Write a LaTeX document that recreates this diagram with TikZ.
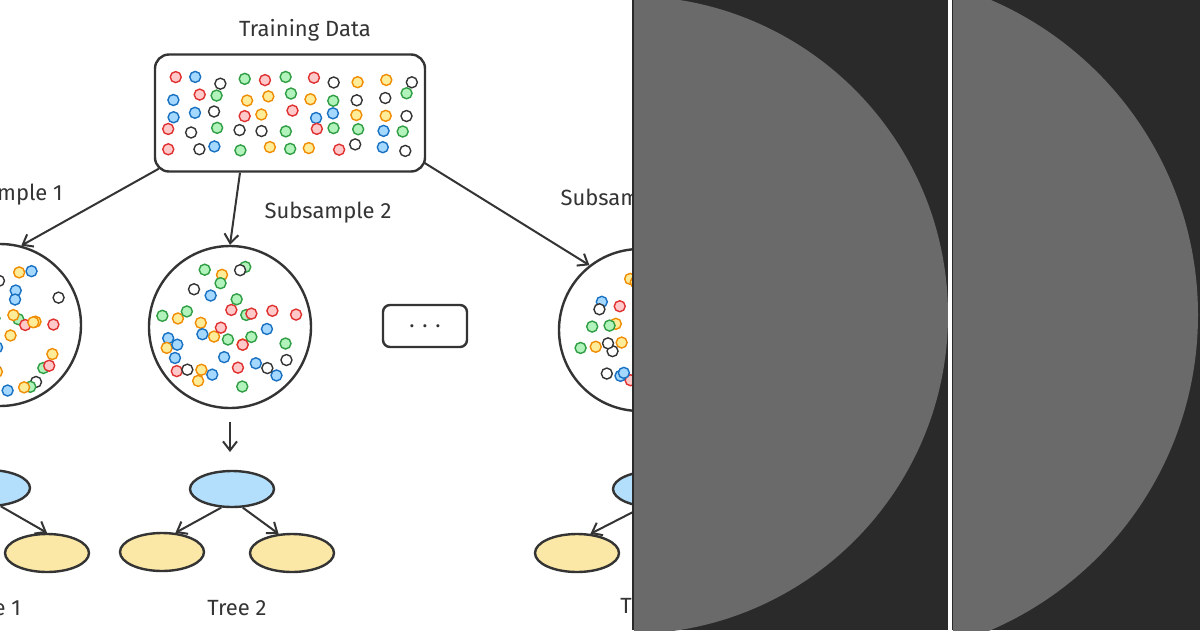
\documentclass[tikz,border=0pt]{standalone}
\usepackage{fontspec}
\setmainfont{Fira Sans}
\usetikzlibrary{arrows.meta,shapes.geometric}
\definecolor{ink}{HTML}{343434}
\definecolor{bfill}{HTML}{A5D8FF}\definecolor{bdraw}{HTML}{1971C2}
\definecolor{gfill}{HTML}{B2F2BB}\definecolor{gdraw}{HTML}{2F9E44}
\definecolor{rfill}{HTML}{FFC9C9}\definecolor{rdraw}{HTML}{E03131}
\definecolor{ofill}{HTML}{FFEC99}\definecolor{odraw}{HTML}{F08C00}
\definecolor{rootc}{HTML}{B3DEFC}\definecolor{leafc}{HTML}{FBE7A6}
\definecolor{darkbg}{HTML}{2A2A2A}\definecolor{halfc}{HTML}{6A6A6A}
\tikzset{
 dot1/.style={fill=bfill,draw=bdraw},
 dot2/.style={fill=gfill,draw=gdraw},
 dot3/.style={fill=rfill,draw=rdraw},
 dot4/.style={fill=ofill,draw=odraw},
 dot5/.style={fill=white,draw=ink},
 sample/.style={circle,draw=ink,line width=2.4pt,minimum size=162pt,inner sep=0},
 root/.style={ellipse,draw=ink,line width=2.4pt,fill=rootc,minimum width=84pt,minimum height=36pt},
 leaf/.style={ellipse,draw=ink,line width=2.4pt,fill=leafc,minimum width=84pt,minimum height=38pt},
 arr/.style={draw=ink,line width=2pt,-{Straight Barb[length=9pt,width=14pt]}},
 lbl/.style={font=\fontsize{22}{25}\selectfont,text=ink},
}
\newcommand{\randdots}[3]{% cx cy r
 \foreach \i in {1,...,42}{
  \pgfmathsetmacro{\ang}{rnd*360}
  \pgfmathsetmacro{\rad}{sqrt(rnd)*#3}
  \pgfmathrandominteger{\cc}{1}{5}
  \draw[dot\cc,line width=1.4pt] ({#1+\rad*cos(\ang)},{#2+\rad*sin(\ang)}) circle (5.5);
 }}
\begin{document}
\begin{tikzpicture}[x=1pt,y=-1pt]
\useasboundingbox (0,0) rectangle (1200,630);
\fill[white] (0,0) rectangle (632,630);
\pgfmathsetseed{7}
\begin{scope}
\clip (0,0) rectangle (632,630);
\node[lbl] (title) at (305,30) {Training Data};
\node[draw=ink,line width=2.4pt,rounded corners=14pt,minimum width=270pt,minimum height=117pt] (data) at (290,113) {};
\foreach \r in {0,...,4}{\foreach \c in {0,...,10}{
  \pgfmathsetmacro{\xx}{172+\c*23.5+rnd*10-5}
  \pgfmathsetmacro{\yy}{80+\r*17+rnd*8-4}
  \pgfmathrandominteger{\cc}{1}{5}
  \draw[dot\cc,line width=1.4pt] (\xx,\yy) circle (5.5);}}
\node[sample] (s1) at (0,325) {};
\node[sample] (s2) at (230,327) {};
\node[sample] (s3) at (640,330) {};
\randdots{0}{325}{70}
\randdots{230}{327}{70}
\randdots{640}{330}{70}
\node[draw=ink,line width=2.4pt,rounded corners=7pt,minimum width=84pt,minimum height=42pt,lbl] (dots) at (425,326) {. . .};
\node[lbl] (l1) at (0,195) {Subsample 1};
\node[lbl] (l2) at (328,213) {Subsample 2};
\node[lbl] (l3) at (624,200) {Subsample 3};
\draw[arr] (data.south west) ++(5,-4) coordinate (a1) -- (s1.75);
\draw[arr] (data.south) ++(-50,0) coordinate (a2) -- (s2.north);
\draw[arr] (data.south east) ++(-2,-10) coordinate (a3) -- (s3.128);
\coordinate (t2top) at (230,422);
\node[root] (r1) at (-12,488) {};
\node[root] (r2) at (232,489) {};
\node[root] (r3) at (655,489) {};
\node[leaf] (k1b) at (47,553) {};
\node[leaf] (k2a) at (162,552) {};
\node[leaf] (k2b) at (292,553) {};
\node[leaf] (k3a) at (577,553) {};
\draw[arr] (t2top) -- (230,452) coordinate (t2end);
\draw[arr] (r1.-55) -- (k1b.north);
\draw[arr] (r2.-120) -- (k2a.55);
\draw[arr] (r2.-60) -- (k2b.125);
\draw[arr] (r3.-125) -- (k3a.55);
\node[lbl] (tr1) at (-8,608) {Tree 1};
\node[lbl] (tr2) at (237,608) {Tree 2};
\node[lbl] (tr3) at (650,606) {Tree 3};
\end{scope}
\fill[darkbg] (632,0) rectangle (1200,630);
\begin{scope}
\clip (634,0) rectangle (948,630);
\fill[halfc] (629,315) circle (319);
\end{scope}
\begin{scope}
\clip (953,0) rectangle (1200,630);
\fill[halfc] (855,315) circle (343);
\end{scope}
\fill[white] (948,0) rectangle (952,630);
\end{tikzpicture}
\end{document}
